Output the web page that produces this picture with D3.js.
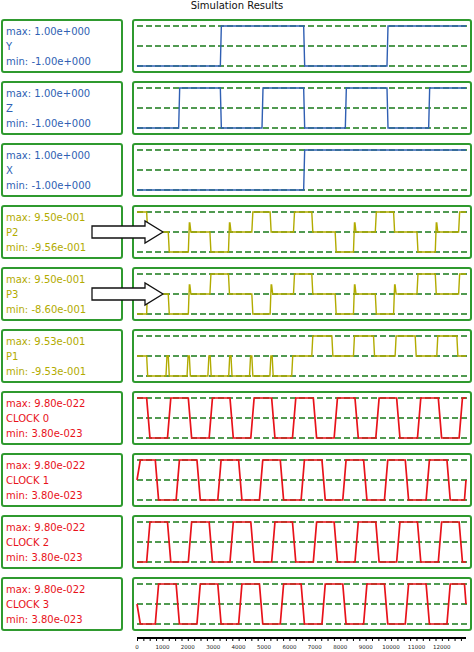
<!DOCTYPE html>
<html>
<head>
<meta charset="utf-8">
<script src="https://cdn.jsdelivr.net/npm/d3@7"></script>
<style>
body { margin: 0; background: #fff; }
text { font-family: "DejaVu Sans", sans-serif; }
</style>
</head>
<body>
<div id="chart"></div>
<script>
// signal names and labels, top to bottom
const names = ['Y', 'Z', 'X', 'P2', 'P3', 'P1', 'CLOCK 0', 'CLOCK 1', 'CLOCK 2', 'CLOCK 3'];
const maxLabels = ['1.00e+000', '1.00e+000', '1.00e+000', '9.50e-001', '9.50e-001', '9.53e-001',
                   '9.80e-022', '9.80e-022', '9.80e-022', '9.80e-022'];
const minLabels = ['-1.00e+000', '-1.00e+000', '-1.00e+000', '-9.56e-001', '-8.60e-001', '-9.53e-001',
                   '3.80e-023', '3.80e-023', '3.80e-023', '3.80e-023'];
const kinds = ['logic', 'logic', 'logic', 'p', 'p', 'p', 'clock', 'clock', 'clock', 'clock'];

// step changes: [time, level]
const ySteps = [[0, -1], [3280, 1], [6560, -1], [9840, 1]];
const zSteps = [[0, -1], [1640, 1], [3280, -1], [4920, 1], [6560, -1], [8200, 1], [9840, -1], [11480, 1]];
const xSteps = [[0, -1], [6560, 1]];
const p2Steps = [[0, 1], [380, 0], [1230, -1], [2020, 0.45], [2080, 0], [2870, -1], [3600, 0.45], [3660, 0],
                 [4520, 1], [5240, 0], [6160, 1], [6880, 0], [7800, -1], [8520, 0.45], [8580, 0], [9380, 1],
                 [10100, 0], [11020, -1], [11740, 0.45], [11800, 0], [12660, 1]];
const p3Steps = [[0, -1], [380, 0.45], [440, 0], [1230, -1], [2020, 0.45], [2080, 0], [2870, 1], [3600, 0],
                 [4520, -1], [5240, 0.45], [5300, 0], [6160, 1], [6880, 0], [7800, -1], [8520, 0.45], [8580, 0],
                 [9380, -1], [10100, 0.45], [10160, 0], [11020, 1], [11740, 0], [12660, 1]];
const p1Steps = [[0, 0], [380, -1], [1140, 0], [1230, -1], [1970, 0], [2060, -1], [2790, 0], [2880, -1],
                 [3610, 0], [3700, -1], [4430, 0], [4520, -1], [5230, 0], [5320, -1], [6090, 0], [6880, 1],
                 [7670, 0], [8520, 1], [9310, 0], [10160, 1], [10950, 0], [11800, 1], [12590, 0]];
const clockEdgesA = [380, 1200, 2020, 2840, 3660, 4480, 5300, 6120, 6940, 7760, 8580, 9400, 10220, 11040, 11860, 12680];
const clockEdgesB = [720, 1540, 2360, 3180, 4000, 4820, 5640, 6460, 7280, 8100, 8920, 9740, 10560, 11380, 12200];
const clockStart = [1, 0.5, 0, 0.5];
const clockFirst = [1, 1, 0, 0];   // level after start
const clockEnd = [1, 0.5, 0, 0.5];

const xTicks = [0, 1000, 2000, 3000, 4000, 5000, 6000, 7000, 8000, 9000, 10000, 11000, 12000];
const tEnd = 12950;

const colors = { logic: '#2f5fb3', p: '#b2ab00', clock: '#e8121a' };
const green = '#2f9a2f', dashGreen = '#187a18';

function stepPoints(steps, ramp) {
  const pts = [];
  steps.forEach((s, i) => {
    if (i === 0) { pts.push([s[0], s[1]]); return; }
    pts.push([s[0], steps[i - 1][1]]);
    pts.push([s[0] + ramp, s[1]]);
  });
  pts.push([tEnd, steps[steps.length - 1][1]]);
  return pts;
}

function clockPoints(c) {
  const edges = (c % 2 === 0) ? clockEdgesA : clockEdgesB;
  const steps = [[0, clockStart[c]]];
  let lvl = clockFirst[c];
  if (clockStart[c] !== lvl) steps.push([0, lvl]);
  edges.forEach(e => { lvl = 1 - lvl; steps.push([e, lvl]); });
  const pts = stepPoints(steps, 130);
  if (clockEnd[c] === 0.5) {
    pts.pop();
    pts.push([tEnd - 60, lvl]);
    pts.push([tEnd, 0.5]);
  }
  return pts;
}

const series = [ySteps, zSteps, xSteps, p2Steps, p3Steps, p1Steps].map(s => stepPoints(s, 40))
  .concat([0, 1, 2, 3].map(clockPoints));

const W = 474, H = 652;
const svg = d3.select('#chart').append('svg').attr('width', W).attr('height', H);

svg.append('text').attr('x', 237).attr('y', 9).attr('text-anchor', 'middle')
  .attr('font-size', 10).attr('fill', '#111').text('Simulation Results');

const x = d3.scaleLinear().domain([0, tEnd]).range([137, 466]);
const rowTop = 20, pitch = 62, rowH = 52;

names.forEach((name, i) => {
  const top = rowTop + i * pitch;
  const col = colors[kinds[i]];
  const g = svg.append('g');

  g.append('rect').attr('x', 2).attr('y', top).attr('width', 120).attr('height', rowH)
    .attr('rx', 2).attr('fill', '#fff').attr('stroke', green).attr('stroke-width', 2);
  const t = g.append('g').attr('fill', col).attr('font-size', 10);
  t.append('text').attr('x', 6).attr('y', top + 15).text('max: ' + maxLabels[i]);
  t.append('text').attr('x', 6).attr('y', top + 30).text(name);
  t.append('text').attr('x', 6).attr('y', top + 45).text('min: ' + minLabels[i]);

  g.append('rect').attr('x', 133).attr('y', top).attr('width', 338).attr('height', rowH)
    .attr('rx', 2).attr('fill', '#fff').attr('stroke', green).attr('stroke-width', 2);

  const dom = kinds[i] === 'clock' ? [0, 1] : [-1, 1];
  const y = d3.scaleLinear().domain(dom).range([top + rowH - 6, top + 6]);
  [dom[0], (dom[0] + dom[1]) / 2, dom[1]].forEach(v => {
    g.append('line').attr('x1', 137).attr('x2', 467).attr('y1', y(v)).attr('y2', y(v))
      .attr('stroke', dashGreen).attr('stroke-width', 1.4).attr('stroke-dasharray', '6,3');
  });

  g.append('path').datum(series[i])
    .attr('d', d3.line().x(d => x(d[0])).y(d => y(d[1])))
    .attr('fill', 'none').attr('stroke', col)
    .attr('stroke-width', kinds[i] === 'clock' ? 1.7 : 1.4);
});

// arrows pointing at P2 and P3
[3, 4].forEach(i => {
  const cy = rowTop + i * pitch + 26;
  const pts = [[92, cy - 6], [145, cy - 6], [145, cy - 11], [163, cy], [145, cy + 11], [145, cy + 6], [92, cy + 6]];
  svg.append('path').attr('d', d3.line()(pts) + 'Z')
    .attr('fill', '#fff').attr('stroke', '#111').attr('stroke-width', 1.3);
});

// time axis
const axisY = 638;
const axis = svg.append('g').attr('transform', `translate(0,${axisY})`);
axis.append('line').attr('x1', 137).attr('x2', 466).attr('stroke', '#000').attr('stroke-width', 2);
axis.call(d3.axisBottom(x).tickValues(d3.range(0, tEnd, 250)).tickSize(3).tickFormat(''))
  .call(g => g.select('.domain').remove());
axis.selectAll('.tick line').attr('stroke', '#000');
const labels = svg.append('g');
labels.selectAll('text').data(xTicks).join('text')
  .attr('x', d => x(d)).attr('y', axisY + 11).attr('text-anchor', 'middle')
  .attr('font-size', 5.5).attr('fill', '#222').text(d => d);
</script>
</body>
</html>
